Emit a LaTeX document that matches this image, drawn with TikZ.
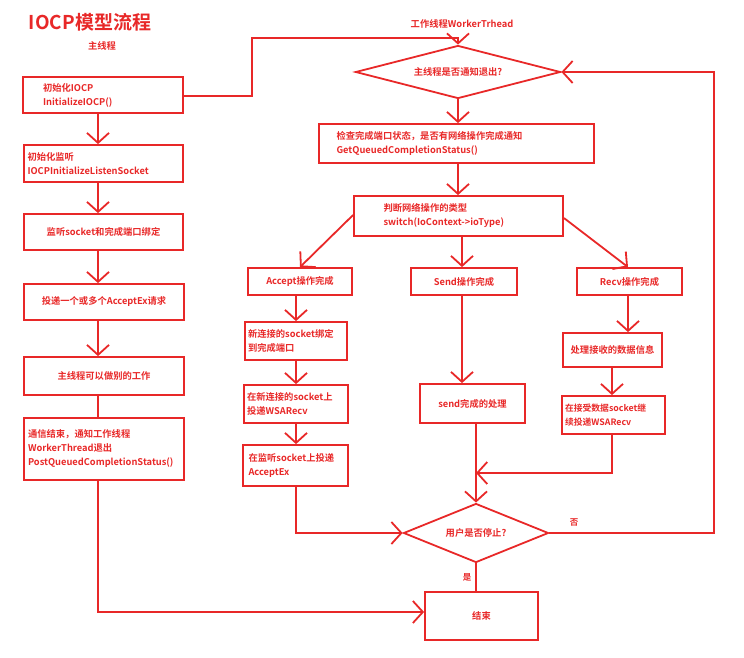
\documentclass[tikz,border=0pt]{standalone}
\usepackage{fontspec}
\setmainfont{Noto Sans CJK SC}[BoldFont={Noto Sans CJK SC Bold}]
\usetikzlibrary{arrows.meta,shapes.geometric}
\definecolor{rd}{RGB}{232,40,40}
\begin{document}
\begin{tikzpicture}[x=1pt,y=-1pt,
  every node/.style={text=rd,font=\bfseries\fontsize{9.3}{14}\selectfont},
  box/.style={draw=rd,line width=1.8pt,inner sep=3pt},
  dia/.style={draw=rd,line width=1.8pt,diamond,aspect=3.6,inner sep=0pt},
  ln/.style={draw=rd,line width=1.8pt},
  ar/.style={ln,-{Straight Barb[length=10pt,width=22pt,line width=1.8pt]}}]
\useasboundingbox (0,0) rectangle (744,658);
\node[font=\bfseries\fontsize{19}{20}\selectfont] (title) at (90,22) {IOCP模型流程};
\node (mt) at (102,46) {主线程};
\node (wt) at (462,24) {工作线程WorkerTrhead};
% left column
\node[box,minimum width=160,minimum height=36,text width=120,align=left] (a1) at (103,95) {初始化IOCP\\InitializeIOCP()};
\node[box,minimum width=159,minimum height=37,text width=152,align=left] (a2) at (103.5,163.5) {初始化监听\\IOCPInitializeListenSocket};
\node[box,minimum width=159,minimum height=36] (a3) at (103.5,232) {监听socket和完成端口绑定};
\node[box,minimum width=160,minimum height=36] (a4) at (104,302) {投递一个或多个AcceptEx请求};
\node[box,minimum width=160,minimum height=38] (a5) at (104,376) {主线程可以做别的工作};
\node[box,minimum width=160,minimum height=62,text width=152,align=left] (a6) at (104,449) {通信结束，通知工作线程\\WorkerThread退出\\PostQueuedCompletionStatus()};
% worker
\node[dia,minimum width=205,minimum height=53] (d1) at (458,72) {主线程是否通知退出?};
\node[box,minimum width=275,minimum height=39,text width=240,align=left] (b1) at (456.5,143.5) {检查完成端口状态，是否有网络操作完成通知\\GetQueuedCompletionStatus()};
\node[box,minimum width=209,minimum height=40,text width=150,align=left] (b2) at (458.5,216) {判断网络操作的类型\\switch(IoContext->ioType)};
\node[box,minimum width=104,minimum height=27] (c1) at (300,281.5) {Accept操作完成};
\node[box,minimum width=106,minimum height=27] (s1) at (464,281.5) {Send操作完成};
\node[box,minimum width=105,minimum height=27] (r1) at (629.5,281.5) {Recv操作完成};
\node[box,minimum width=102,minimum height=38,text width=96,align=left] (c2) at (296,341) {新连接的socket绑定\\到完成端口};
\node[box,minimum width=104,minimum height=38,text width=98,align=left] (c3) at (296,404) {在新连接的socket上\\投递WSARecv};
\node[box,minimum width=105,minimum height=41,text width=94,align=left] (c4) at (295.5,465.5) {在监听socket上投递\\AcceptEx};
\node[box,minimum width=105,minimum height=39] (s2) at (472.5,403.5) {send完成的处理};
\node[box,minimum width=99,minimum height=34] (r2) at (612.5,350) {处理接收的数据信息};
\node[box,minimum width=103,minimum height=38,text width=97,inner xsep=2pt,align=left,font=\bfseries\fontsize{8.8}{14}\selectfont] (r3) at (613.5,415) {在接受数据socket继\\续投递WSARecv};
\node[dia,minimum width=145,minimum height=59] (d2) at (476,533) {用户是否停止?};
\node[box,minimum width=113,minimum height=48] (e) at (481.5,616) {结束};
\node[font=\bfseries\fontsize{8.5}{9}\selectfont] (no) at (574,522) {否};
\node[font=\bfseries\fontsize{8.5}{9}\selectfont] (yes) at (467,577) {是};
% left arrows
\foreach \u/\v in {a1/a2,a2/a3,a3/a4,a4/a5}
  \draw[ar] (\u.south -| 98,0) -- (\v.north -| 98,0);
\draw[ln] (a5.south -| 98,0) -- (a6.north -| 98,0);
\coordinate (k1) at (98,612);
\draw[ar] (a6.south -| 98,0) -- (k1) -- (e.west |- k1);
\coordinate (k2) at (252,96);
\coordinate (k3) at (252,38);
\coordinate (k4) at (458,38);
\draw[ar] (a1.east |- k2) -- (k2) -- (k3) -- (k4) -- (d1.north);
\draw[ar] (d1.south) -- (b1.north -| d1.south);
\draw[ar] (b1.south -| 458,0) -- (b2.north -| 458,0);
\draw[ar] (b2.west |- 0,215) -- (c1.north);
\draw[ar] (b2.south -| 462,0) -- (s1.north -| 462,0);
\draw[ar] (b2.east |- 0,218) -- (r1.north -| 628,0);
\draw[ar] (c1.south -| 296,0) -- (c2.north -| 296,0);
\draw[ar] (c2.south -| 296,0) -- (c3.north -| 296,0);
\draw[ar] (c3.south -| 296,0) -- (c4.north -| 296,0);
\draw[ar] (s1.south -| 462,0) -- (s2.north -| 462,0);
\draw[ar] (r1.south -| 628,0) -- (r2.north -| 628,0);
\draw[ar] (r2.south -| 612,0) -- (r3.north -| 612,0);
\draw[ar] (s2.south -| 476,0) -- (d2.north);
\coordinate (k6) at (612,473);
\draw[ar] (r3.south -| 612,0) -- (k6) -- (476,473);
\coordinate (k7) at (296,533);
\draw[ar] (c4.south -| 296,0) -- (k7) -- (d2.west);
\coordinate (k8) at (714,533);
\coordinate (k9) at (714,72);
\draw[ar] (d2.east) -- (k8) -- (k9) -- (d1.east);
\draw[ln] (d2.south) -- (e.north -| d2.south);
\end{tikzpicture}
\end{document}
